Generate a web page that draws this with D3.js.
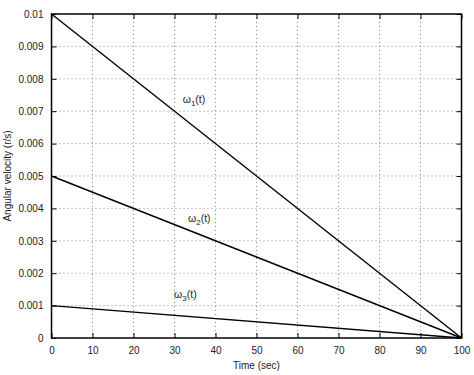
<!DOCTYPE html>
<meta charset="utf-8"/>
<style>
  body { margin: 0; background: #fff; }
  text { font-family: "Liberation Sans", Arial, sans-serif; }
</style>
<svg width="474" height="375"></svg>
<script src="https://d3js.org/d3.v7.min.js"></script>
<script>

// data: omega(t) falls linearly to zero at t = 100
var time = [0, 100];
var omega1 = [0.01, 0];
var omega2 = [0.005, 0];
var omega3 = [0.001, 0];
var seriesNames = ["ω1(t)", "ω2(t)", "ω3(t)"];
var xTicks = [0, 10, 20, 30, 40, 50, 60, 70, 80, 90, 100];
var yTicks = [0, 0.001, 0.002, 0.003, 0.004, 0.005, 0.006, 0.007, 0.008, 0.009, 0.01];
// label anchor points in data units
var labelT = [32, 33.3, 29.9];
var labelW = [0.00726, 0.00358, 0.00124];

var svg = d3.select("svg"),
    margin = {top: 14, right: 12.5, bottom: 37, left: 51.5},
    width = +svg.attr("width") - margin.left - margin.right,
    height = +svg.attr("height") - margin.top - margin.bottom,
    g = svg.append("g").attr("transform", "translate(" + margin.left + "," + margin.top + ")");

var x = d3.scaleLinear().domain([0, 100]).range([0, width]);
var y = d3.scaleLinear().domain([0, 0.01]).range([height, 0]);

// dotted grid
g.append("g").selectAll("line")
    .data(xTicks.slice(1, -1))
    .join("line")
      .attr("x1", function(d) { return x(d); })
      .attr("x2", function(d) { return x(d); })
      .attr("y1", 0).attr("y2", height)
      .attr("stroke", "#888").attr("stroke-dasharray", "1,3");

g.append("g").selectAll("line")
    .data(yTicks.slice(1, -1))
    .join("line")
      .attr("y1", function(d) { return y(d); })
      .attr("y2", function(d) { return y(d); })
      .attr("x1", 0).attr("x2", width)
      .attr("stroke", "#888").attr("stroke-dasharray", "1,3");

function styleAxis(sel) {
  sel.select(".domain").remove();
  sel.selectAll("line").attr("stroke", "#000");
  sel.selectAll("text").attr("fill", "#222").style("font-size", "10px")
     .style("font-family", "'Liberation Sans', Arial, sans-serif");
}

g.append("g")
    .attr("transform", "translate(0," + height + ")")
    .call(d3.axisBottom(x).tickValues(xTicks).tickSize(-5).tickPadding(9).tickFormat(d3.format("d")))
    .call(styleAxis);

g.append("g")
    .call(d3.axisLeft(y).tickValues(yTicks).tickSize(-5).tickPadding(8).tickFormat(function(d) { return d === 0 ? "0" : d3.format(".3~f")(d); }))
    .call(styleAxis);

g.append("g")
    .call(d3.axisTop(x).tickValues(xTicks).tickSize(-5).tickFormat(""))
    .call(styleAxis);

g.append("g")
    .attr("transform", "translate(" + width + ",0)")
    .call(d3.axisRight(y).tickValues(yTicks).tickSize(-5).tickFormat(""))
    .call(styleAxis);

g.append("rect")
    .attr("width", width).attr("height", height)
    .attr("fill", "none").attr("stroke", "#000").attr("stroke-width", 1.5);

var line = d3.line()
    .x(function(d) { return x(d[0]); })
    .y(function(d) { return y(d[1]); });

[omega1, omega2, omega3].forEach(function(s) {
  g.append("path")
      .datum(time.map(function(t, i) { return [t, s[i]]; }))
      .attr("fill", "none")
      .attr("stroke", "#000")
      .attr("stroke-width", 1.4)
      .attr("d", line);
});

seriesNames.forEach(function(name, i) {
  var t = g.append("text")
      .attr("x", x(labelT[i]))
      .attr("y", y(labelW[i]))
      .style("font-size", "10.5px")
      .attr("fill", "#222");
  t.append("tspan").text("ω");
  t.append("tspan").attr("dy", 3).style("font-size", "8px").text(String(i + 1));
  t.append("tspan").attr("dy", -3).text("(t)");
});

g.append("text")
    .attr("x", width / 2)
    .attr("y", height + 31)
    .attr("text-anchor", "middle")
    .style("font-size", "10px")
    .attr("fill", "#222")
    .text("Time (sec)");

g.append("text")
    .attr("transform", "rotate(-90)")
    .attr("x", -height / 2)
    .attr("y", -41)
    .attr("text-anchor", "middle")
    .style("font-size", "10px")
    .attr("fill", "#222")
    .text("Angular velocity (r/s)");

</script>
